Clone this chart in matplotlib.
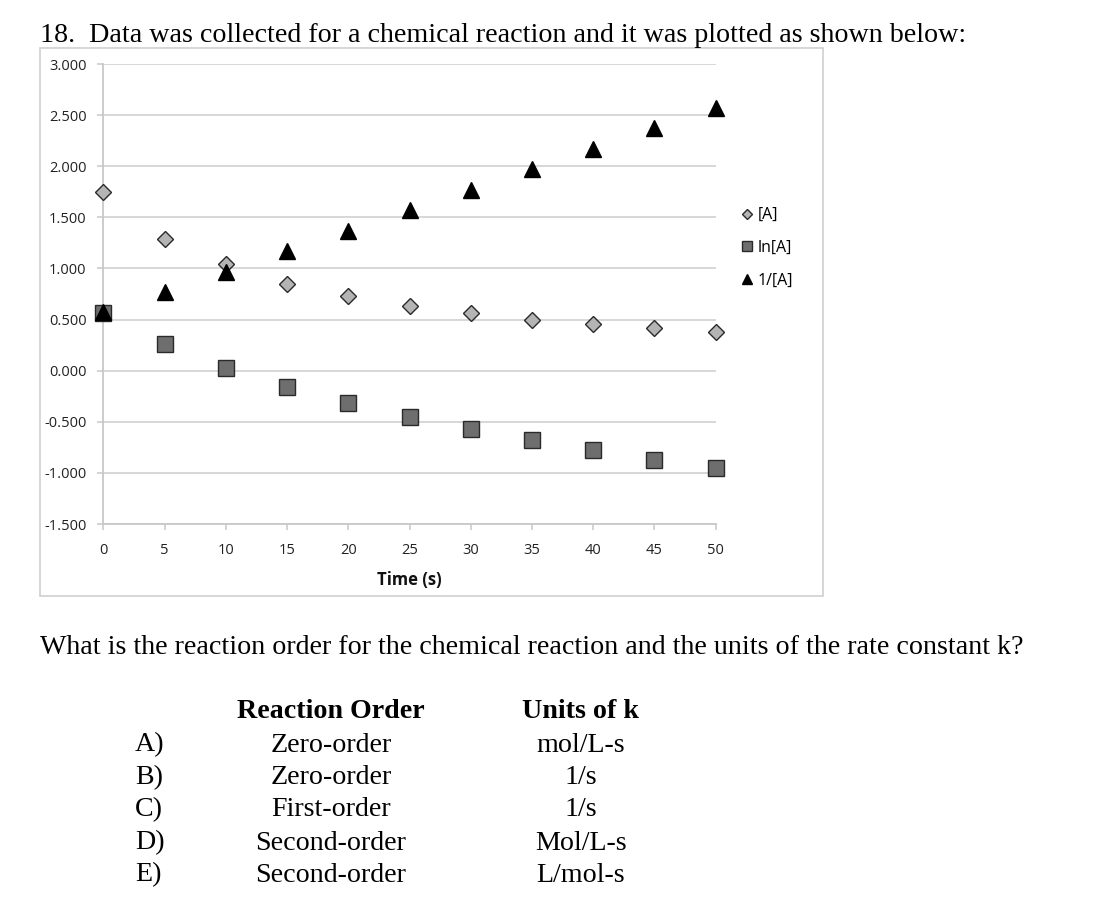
import matplotlib
matplotlib.use("Agg")
import matplotlib.pyplot as plt
from matplotlib.patches import Rectangle

# data
time_s = [0, 5, 10, 15, 20, 25, 30, 35, 40, 45, 50]
conc_a = [1.75, 1.29, 1.04, 0.85, 0.73, 0.63, 0.56, 0.50, 0.46, 0.42, 0.38]
ln_a = [0.56, 0.26, 0.03, -0.16, -0.32, -0.45, -0.57, -0.68, -0.78, -0.87, -0.95]
inv_a = [0.57, 0.77, 0.97, 1.17, 1.37, 1.57, 1.77, 1.97, 2.17, 2.37, 2.57]

y_ticks = [-1.5, -1.0, -0.5, 0.0, 0.5, 1.0, 1.5, 2.0, 2.5, 3.0]
x_ticks = [0, 5, 10, 15, 20, 25, 30, 35, 40, 45, 50]

letters = ["A)", "B)", "C)", "D)", "E)"]
orders = ["Zero-order", "Zero-order", "First-order", "Second-order", "Second-order"]
units = ["mol/L-s", "1/s", "1/s", "Mol/L-s", "L/mol-s"]

W, H = 1117, 924
fig = plt.figure(figsize=(W / 100, H / 100), dpi=100)

def fx(px):
    return px / W

def fy(py):
    return 1 - py / H

# chart frame
fig.patches.append(Rectangle((fx(40), fy(596)), fx(823) - fx(40), fy(48) - fy(596),
                             transform=fig.transFigure, fill=False,
                             edgecolor="#cfcfcf", linewidth=1.2))

ax = fig.add_axes([fx(103.3), fy(524), fx(715.7) - fx(103.3), fy(64) - fy(524)])
ax.set_xlim(0, 50)
ax.set_ylim(-1.5, 3.0)
ax.set_yticks(y_ticks)
ax.set_xticks(x_ticks)
ax.set_yticklabels(["%.3f" % v for v in y_ticks])
ax.grid(axis="y", color="#d4d4d4", linewidth=1.3)
ax.set_axisbelow(True)
for s in ["top", "right"]:
    ax.spines[s].set_visible(False)
ax.spines["left"].set_color("#c8c8c8")
ax.spines["bottom"].set_color("#c8c8c8")
ax.spines["left"].set_linewidth(1.3)
ax.spines["bottom"].set_linewidth(1.3)
ax.tick_params(axis="both", colors="#c8c8c8", labelcolor="#222222", length=4,
               width=1.1, labelsize=10.5)
ax.tick_params(axis="x", pad=10)
ax.tick_params(axis="y", pad=8)
for lbl in ax.get_xticklabels() + ax.get_yticklabels():
    lbl.set_family("Open Sans")

ax.plot(time_s, conc_a, linestyle="none", marker="D", ms=8.4, mfc="#b4b4b4",
        mec="#2a2a2a", mew=1.0, label="[A]", clip_on=False, zorder=3)
ax.plot(time_s, ln_a, linestyle="none", marker="s", ms=12, mfc="#6e6e6e",
        mec="#2a2a2a", mew=1.0, label="ln[A]", clip_on=False, zorder=3)
ax.plot(time_s, inv_a, linestyle="none", marker="^", ms=11.5, mfc="black",
        mec="black", mew=1.0, label="1/[A]", clip_on=False, zorder=4)

ax.set_xlabel("Time (s)", fontsize=12, fontweight="bold", family="Open Sans",
              labelpad=9, color="#111111")

leg = ax.legend(loc="center left", bbox_to_anchor=(fx(726), fy(248)),
                bbox_transform=fig.transFigure, frameon=False, markerscale=0.62,
                handlelength=0.8, handletextpad=0.3, labelspacing=1.05,
                prop={"family": "Open Sans", "size": 11.5})

serif = "Liberation Serif"
fs = 20.2
fig.text(fx(40), fy(35), "18.  Data was collected for a chemical reaction and it was plotted as shown below:",
         family=serif, fontsize=fs, va="center", ha="left")
fig.text(fx(40), fy(648), "What is the reaction order for the chemical reaction and the units of the rate constant k?",
         family=serif, fontsize=fs, va="center", ha="left")

fig.text(fx(331), fy(712), "Reaction Order", family=serif, fontsize=fs,
         fontweight="bold", ha="center", va="center")
fig.text(fx(581), fy(712), "Units of k", family=serif, fontsize=fs,
         fontweight="bold", ha="center", va="center")

row_y = [745, 778, 810, 843, 875]
for yy, let, order, unit in zip(row_y, letters, orders, units):
    fig.text(fx(135), fy(yy), let, family=serif, fontsize=fs, ha="left", va="center")
    fig.text(fx(331), fy(yy), order, family=serif, fontsize=fs, ha="center", va="center")
    fig.text(fx(581), fy(yy), unit, family=serif, fontsize=fs, ha="center", va="center")

fig.savefig("out.png", dpi=100)
